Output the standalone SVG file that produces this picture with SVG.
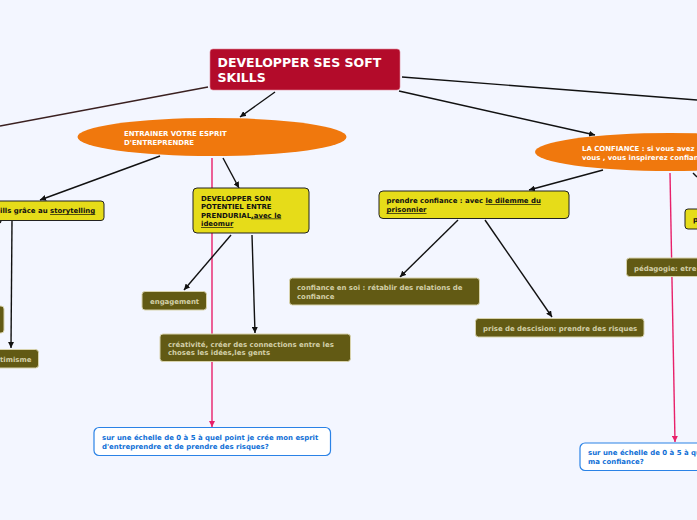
<svg xmlns="http://www.w3.org/2000/svg" width="697" height="520" viewBox="0 0 697 520">
<style>
text{font-family:"DejaVu Sans",Verdana,sans-serif;font-weight:700;font-size:6.95px}
.c{fill:none;stroke:#111;stroke-width:1.4}
.p{fill:none;stroke:#e8206a;stroke-width:1.4}
.y{fill:#e6dc19;stroke:#222;stroke-width:1}
.o{fill:#f0780d}
.d{fill:#625a14;stroke:#d8d3ad;stroke-width:1}
.b{fill:#fff;stroke:#2a82e6;stroke-width:1.2}
.tw{fill:#fff}.tk{fill:#111}.td{fill:#d2cfa8}.tb{fill:#0f6fd6}
.u{text-decoration:underline}
</style>
<defs>
<marker id="a" markerUnits="userSpaceOnUse" markerWidth="7" markerHeight="6" refX="6" refY="3" orient="auto"><path d="M0 0L6 3L0 6Z" fill="#111"/></marker>
<marker id="ap" markerUnits="userSpaceOnUse" markerWidth="7" markerHeight="6" refX="6" refY="3" orient="auto"><path d="M0 0L6 3L0 6Z" fill="#e8206a"/></marker>
</defs>
<rect width="697" height="520" fill="#f3f6ff"/>
<g id="connectors">
<path d="M208 87L0 126" fill="none" stroke="#3a2020" stroke-width="1.4"/>
<path class="c" marker-end="url(#a)" d="M275 92L240 117"/>
<path class="c" marker-end="url(#a)" d="M399 91L595 135"/>
<path class="c" d="M402 77L697 100"/>
<path class="c" marker-end="url(#a)" d="M160 156L40 200"/>
<path class="c" marker-end="url(#a)" d="M223 158L239 188"/>
<path class="p" marker-end="url(#ap)" d="M212 158L212 427"/>
<path class="c" marker-end="url(#a)" d="M12 221L11 348"/>
<path class="c" d="M1 221L0 223"/>
<path class="c" marker-end="url(#a)" d="M231 235L184 290"/>
<path class="c" marker-end="url(#a)" d="M252 235L255 333"/>
<path class="c" marker-end="url(#a)" d="M603 170L529 190"/>
<path class="c" marker-end="url(#a)" d="M458 220L400 277"/>
<path class="c" marker-end="url(#a)" d="M485 220L552 317"/>
<path class="c" d="M693 173L697 177"/>
<path class="p" marker-end="url(#ap)" d="M670 173L675 442"/>
</g>
<g id="root"><rect x="210" y="49" width="190" height="41" rx="3" fill="#b30b2a" stroke="#e08a9c" stroke-width=".6"/>
<text class="tw" style="font-size:12.500px" x="217.500" y="67">DEVELOPPER SES SOFT</text><text class="tw" style="font-size:12.500px" x="217.500" y="82">SKILLS</text></g>
<g id="esprit"><ellipse class="o" cx="212" cy="137" rx="134.500" ry="19"/>
<text class="tw" x="124" y="136">ENTRAINER VOTRE ESPRIT</text><text class="tw" x="124" y="144.500">D'ENTREPRENDRE</text></g>
<g id="confiance"><ellipse class="o" cx="670" cy="152" rx="135" ry="19"/>
<text class="tw" x="582" y="151">LA CONFIANCE : si vous avez</text><text class="tw" x="582" y="159.500">vous , vous inspirerez confian</text></g>
<g id="storytelling"><rect class="y" x="-20" y="201" width="124" height="19.500" rx="3"/>
<text class="tk" x="0" y="213">ills grâce au <tspan class="u">storytelling</tspan></text></g>
<g id="potentiel"><rect class="y" x="193" y="188" width="116" height="45" rx="4"/>
<text class="tk" x="201" y="201">DEVELOPPER SON</text><text class="tk" x="201" y="209">POTENTIEL ENTRE</text><text class="tk" x="201" y="217.500">PRENDURIAL<tspan class="u">,avec le </tspan></text><text class="tk u" x="201" y="226">ideomur</text></g>
<g id="prendre"><rect class="y" x="379" y="191" width="190" height="27.500" rx="4"/>
<text class="tk" x="386.500" y="203">prendre confiance : avec <tspan class="u">le dilemme du </tspan></text><text class="tk u" x="386.500" y="212">prisonnier</text></g>
<g id="droite"><rect class="y" x="685" y="209" width="30" height="20" rx="3"/><text class="tk" x="693" y="222">p</text></g>
<g id="gauche"><rect class="d" x="-20" y="306" width="24" height="27" rx="3"/></g>
<g id="optimisme"><rect class="d" x="-20" y="349.500" width="58.500" height="18.500" rx="3"/><text class="td" x="0" y="362">timisme</text></g>
<g id="engagement"><rect class="d" x="142" y="291.500" width="64.500" height="18.500" rx="3"/><text class="td" x="150" y="304">engagement</text></g>
<g id="creativite"><rect class="d" x="160" y="334" width="190.500" height="27.500" rx="3"/><text class="td" x="168" y="347">créativité, créer des connections entre les</text><text class="td" x="168" y="355">choses les idées,les gents</text></g>
<g id="soi"><rect class="d" x="289.500" y="278" width="190" height="27" rx="3"/><text class="td" x="297" y="290">confiance en soi : rétablir des relations de</text><text class="td" x="297" y="299">confiance</text></g>
<g id="risques"><rect class="d" x="475.500" y="318.500" width="168.500" height="18.500" rx="3"/><text class="td" x="483" y="331">prise de descision: prendre des risques</text></g>
<g id="pedagogie"><rect class="d" x="626.500" y="258" width="90" height="18.500" rx="3"/><text class="td" x="634" y="270.500">pédagogie: etre</text></g>
<g id="question1"><rect class="b" x="94" y="427.500" width="236.500" height="28" rx="5"/><text class="tb" x="102" y="440">sur une échelle de 0 à 5 à quel point je crée mon esprit</text><text class="tb" x="102" y="449">d'entreprendre et de prendre des risques?</text></g>
<g id="question2"><rect class="b" x="580" y="443" width="140" height="27.500" rx="5"/><text class="tb" x="588" y="455">sur une échelle de 0 à 5 à qu</text><text class="tb" x="588" y="464">ma confiance?</text></g>
</svg>
